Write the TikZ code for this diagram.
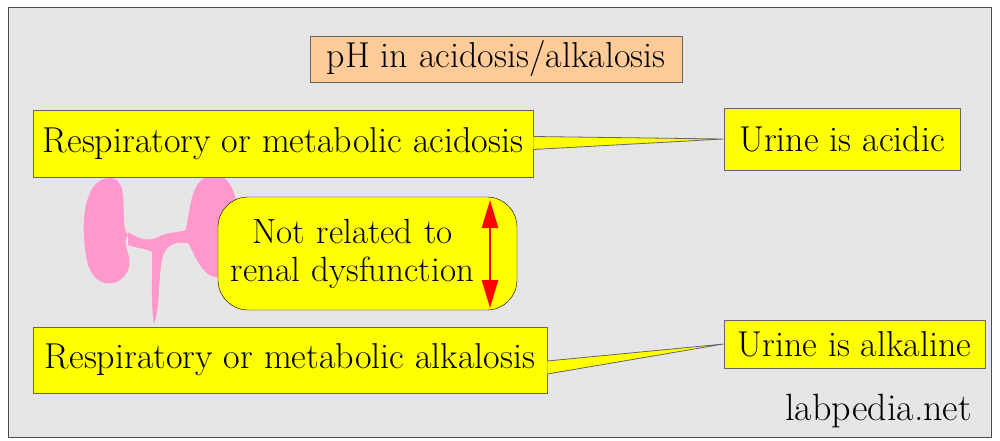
\documentclass[tikz,border=0pt]{standalone}
\usetikzlibrary{arrows.meta}
\definecolor{bg}{HTML}{E6E6E6}
\definecolor{pinkk}{HTML}{FF99CC}
\definecolor{peach}{HTML}{FFCC99}
\definecolor{yy}{HTML}{FFFF00}
\tikzset{
 ybox/.style={draw=black!60, fill=yy, line width=0.8pt},
 txt/.style={font=\fontsize{36}{38}\selectfont, inner sep=0pt},
}
\begin{document}
\begin{tikzpicture}[x=1pt,y=-1pt]
\useasboundingbox (0,0) rectangle (1000,441);
\draw[fill=bg, draw=black!70, line width=1pt] (8,8) rectangle (991,437);
% kidneys
\fill[pinkk] (110,178) .. controls (85,178) and (80,220) .. (86,255)
  .. controls (90,290) and (120,290) .. (128,270)
  .. controls (134,255) and (120,245) .. (128,235)
  .. controls (118,225) and (132,178) .. (110,178) -- cycle;
\fill[pinkk] (215,175) .. controls (240,175) and (242,230) .. (238,255)
  .. controls (232,280) and (212,285) .. (200,265)
  .. controls (190,250) and (190,240) .. (182,238)
  .. controls (192,225) and (185,175) .. (215,175) -- cycle;
\fill[pinkk] (128,232) .. controls (140,240) and (150,242) .. (160,236)
  .. controls (170,232) and (180,232) .. (188,230)
  -- (190,244) .. controls (175,240) and (165,245) .. (162,260)
  .. controls (158,280) and (160,310) .. (154,324)
  .. controls (150,300) and (153,270) .. (152,252)
  .. controls (145,248) and (135,248) .. (128,245) -- cycle;
% title
\node[draw=black!60, fill=peach, line width=0.8pt, minimum width=372, minimum height=46, font=\fontsize{36}{38}\selectfont, inner sep=0pt] (title) at (496,59) {pH in acidosis/alkalosis};
% boxes
\node[ybox, txt, minimum width=500, minimum height=67] (acid) at (283,143.5) {Respiratory or metabolic acidosis};
\node[ybox, txt, minimum width=236, minimum height=62] (ua) at (842,139) {Urine is acidic};
\node[ybox, txt, minimum width=514, minimum height=66] (alk) at (290,360) {Respiratory or metabolic alkalosis};
\node[ybox, txt, minimum width=261, minimum height=48] (ual) at (854.5,344) {Urine is alkaline};
\draw[fill=yy, draw=black!60, line width=0.8pt] ([yshift=-6]acid.east) -- (ua.west) -- ([yshift=7]acid.east);
\fill[yy] ([yshift=-5.5,xshift=-1]acid.east) rectangle ([yshift=6.5]acid.east);
\draw[fill=yy, draw=black!60, line width=0.8pt] ([yshift=-14]alk.east) -- (ual.west) -- ([yshift=-1]alk.east);
\fill[yy] ([yshift=-13.5,xshift=-1]alk.east) rectangle ([yshift=-1.5]alk.east);
% rounded
\node[draw=black, fill=yy, rounded corners=30pt, minimum width=299, minimum height=113, align=center, txt, font=\fontsize{35}{38}\selectfont, text width=290] (nr) at (367.5,253.5) {\hspace*{-30pt}Not related to\\\hspace*{-30pt}renal dysfunction};
\coordinate (at) at (490,200);
\coordinate (ab) at (490,308);
\draw[red, line width=2.5pt, {Triangle[length=28pt,width=16pt]}-{Triangle[length=28pt,width=16pt]}] (at) -- (ab);
\node[font=\fontsize{38}{40}\selectfont, anchor=east, inner sep=0pt] (lab) at (972,411) {labpedia.net};
\end{tikzpicture}
\end{document}
